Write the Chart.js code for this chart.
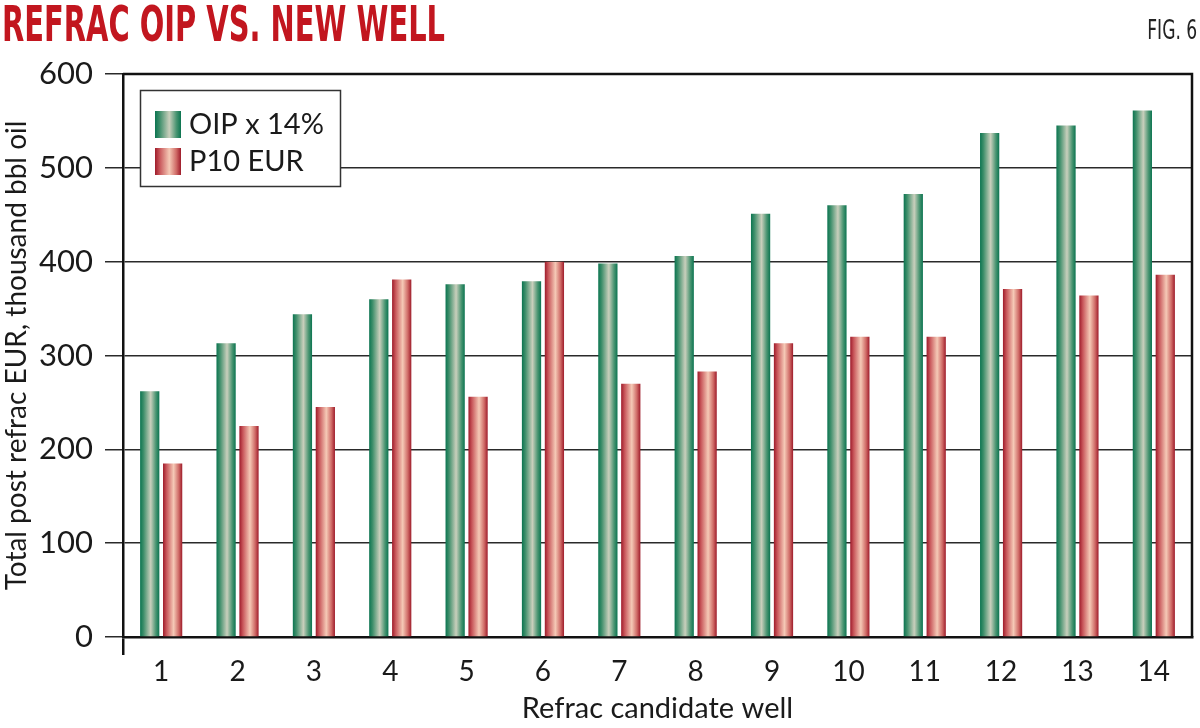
<!DOCTYPE html>
<html lang="en">
<head>
  <meta charset="UTF-8">
  <title>Refrac OIP vs. new well</title>
  <script src="https://cdn.jsdelivr.net/npm/chart.js"></script>
  <style>
    body {
      margin: 0;
      background: #fff;
      width: 1200px;
      height: 728px;
      overflow: hidden;
      position: relative;
    }

    #titulo {
      position: absolute;
      left: 2px;
      top: -3px;
      font-family: 'DejaVu Sans Condensed', 'DejaVu Sans', sans-serif;
      font-weight: bold;
      font-size: 50px;
      line-height: 54px;
      color: #c2161f;
      white-space: nowrap;
      transform-origin: left top;
    }

    #figura {
      position: absolute;
      right: 3px;
      top: 15px;
      font-family: 'DejaVu Sans Condensed', 'DejaVu Sans', sans-serif;
      font-size: 26px;
      line-height: 30px;
      color: #222;
      white-space: nowrap;
      transform-origin: right top;
    }

    #grafico {
      position: absolute;
      left: 0;
      top: 0;
    }
  </style>
</head>
<body>

<canvas id="grafico" width="1200" height="728"></canvas>
<div id="titulo">REFRAC OIP VS. NEW WELL</div>
<div id="figura">FIG. 6</div>

<script>
  // Datos
  var pozos = ['1', '2', '3', '4', '5', '6', '7', '8', '9', '10', '11', '12', '13', '14'];
  var oip14 = [262, 313, 344, 360, 376, 379, 398, 406, 451, 460, 472, 537, 545, 561];
  var p10Eur = [185, 225, 245, 381, 256, 400, 270, 283, 313, 320, 320, 371, 364, 386];
  var ticksY = [0, 100, 200, 300, 400, 500, 600];

  var etiquetas = ['OIP x 14%', 'P10 EUR'];

  // Colores del degradado de cada serie (borde, centro)
  var paradasVerde = [[0, '#0b7450'], [0.18, '#3f8f6b'], [0.55, '#c9cfbc'], [0.82, '#4a9572'], [1, '#0b7450']];
  var paradasRojo = [[0, '#9e1b2a'], [0.18, '#c8565a'], [0.55, '#f5c9b6'], [0.82, '#cf6a66'], [1, '#9e1b2a']];

  // ajustar ancho de los textos condensados
  function ajustarAncho(id, ancho) {
    var el = document.getElementById(id);
    var w = el.getBoundingClientRect().width;
    el.style.transform = 'scaleX(' + (ancho / w) + ')';
  }
  ajustarAncho('titulo', 443);
  ajustarAncho('figura', 50);

  function degradado(ctx, x0, x1, paradas) {
    var g = ctx.createLinearGradient(x0, 0, x1, 0);
    paradas.forEach(function (p) { g.addColorStop(p[0], p[1]); });
    return g;
  }

  // Plugin: relleno con degradado horizontal en cada barra
  var pluginDegradado = {
    id: 'degradado',
    beforeDatasetsDraw: function (chart) {
      var ctx = chart.ctx;
      chart.data.datasets.forEach(function (ds, i) {
        var meta = chart.getDatasetMeta(i);
        meta.data.forEach(function (barra) {
          var x0 = barra.x - barra.width / 2;
          var x1 = barra.x + barra.width / 2;
          var g = degradado(ctx, x0, x1, ds.paradas);
          barra.options = Object.assign({}, barra.options, { backgroundColor: g });
        });
      });
    }
  };

  var fuente = 'Lato, "Open Sans", sans-serif';

  // Plugin: marco superior/derecho y leyenda dentro del área
  var pluginMarco = {
    id: 'marco',
    afterDraw: function (chart) {
      var ctx = chart.ctx;
      var a = chart.chartArea;
      ctx.save();
      ctx.strokeStyle = '#111';
      ctx.lineWidth = 2.5;
      ctx.beginPath();
      ctx.moveTo(a.left, a.top);
      ctx.lineTo(a.right, a.top);
      ctx.lineTo(a.right, a.bottom);
      ctx.stroke();

      // leyenda
      var bx = 140.5, by = 90.5, bw = 200, bh = 96;
      ctx.fillStyle = '#fff';
      ctx.fillRect(bx, by, bw, bh);
      ctx.lineWidth = 1.5;
      ctx.strokeStyle = '#333';
      ctx.strokeRect(bx, by, bw, bh);

      ctx.font = '29px ' + fuente;
      ctx.textBaseline = 'middle';
      chart.data.datasets.forEach(function (ds, i) {
        var y = 124 + i * 37;
        ctx.fillStyle = degradado(ctx, 155, 181, ds.paradas);
        ctx.fillRect(155, y - 13, 26, 27);
        ctx.fillStyle = '#1a1a1a';
        ctx.fillText(ds.label, 189, y + 1);
      });
      ctx.restore();
    }
  };

  var ctx = document.getElementById('grafico').getContext('2d');
  var grafico = new Chart(ctx, {
    type: 'bar',
    data: {
      labels: pozos,
      datasets: [
        { label: etiquetas[0], data: oip14, paradas: paradasVerde, backgroundColor: '#5a9c7c', borderWidth: 0 },
        { label: etiquetas[1], data: p10Eur, paradas: paradasRojo, backgroundColor: '#d98a80', borderWidth: 0 }
      ]
    },
    options: {
      responsive: false,
      animation: false,
      devicePixelRatio: 1,
      categoryPercentage: 0.6,
      barPercentage: 0.84,
      layout: { padding: { top: 74, right: 8, left: 0, bottom: 0 } },
      plugins: {
        legend: { display: false },
        tooltip: { enabled: false }
      },
      scales: {
        x: {
          afterFit: function (s) { s.height = 91; },
          border: { display: true, color: '#111', width: 2.5 },
          grid: {
            drawOnChartArea: false,
            drawTicks: true,
            tickLength: 18,
            lineWidth: 2.5,
            color: function (c) { return c.index === 0 ? '#111' : 'rgba(0,0,0,0)'; }
          },
          ticks: {
            color: '#1a1a1a',
            padding: 0,
            font: { family: fuente, size: 28 }
          },
          title: {
            display: true,
            text: 'Refrac candidate well',
            color: '#1a1a1a',
            padding: { top: 0, bottom: 2 },
            font: { family: fuente, size: 29 }
          }
        },
        y: {
          min: 0,
          max: 600,
          afterFit: function (s) { s.width = 123; },
          afterBuildTicks: function (s) {
            s.ticks = ticksY.map(function (v) { return { value: v }; });
          },
          border: { display: true, color: '#111', width: 2.5 },
          grid: {
            color: '#2a2a2a',
            lineWidth: 1.5,
            tickLength: 18
          },
          ticks: {
            color: '#1a1a1a',
            padding: 12,
            font: { family: fuente, size: 31 }
          },
          title: {
            display: true,
            text: 'Total post refrac EUR, thousand bbl oil',
            color: '#1a1a1a',
            padding: { top: 0, bottom: 0 },
            font: { family: fuente, size: 28 }
          }
        }
      }
    },
    plugins: [pluginDegradado, pluginMarco]
  });
</script>

</body>
</html>
